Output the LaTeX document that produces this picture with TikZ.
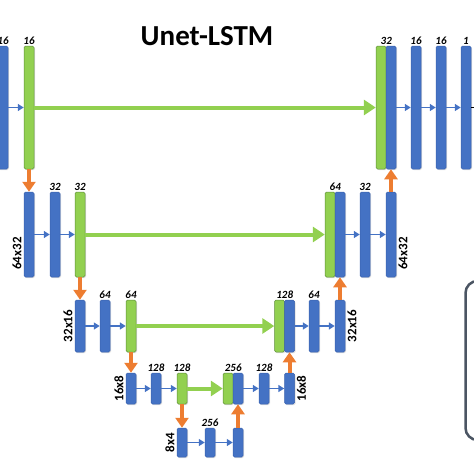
\documentclass[tikz,border=0pt]{standalone}
\usepackage{fontspec}
\setmainfont{Carlito}
\usetikzlibrary{arrows.meta,shadows}
\definecolor{barblue}{HTML}{4472C4}
\definecolor{blueline}{HTML}{3A62AE}
\definecolor{bargreen}{HTML}{92D050}
\definecolor{greenline}{HTML}{5E8E3A}
\definecolor{uporange}{HTML}{ED7D31}
\definecolor{boxline}{HTML}{4B5563}

\begin{document}
\begin{tikzpicture}[x=1pt,y=-1pt,
    bar/.style={rectangle,rounded corners=1.5pt,inner sep=0pt,minimum width=10pt,
      draw=blueline,fill=barblue,line width=0.5pt,
      drop shadow={shadow xshift=1pt,shadow yshift=-1pt,opacity=0.25}},
    gbar/.style={bar,draw=greenline,fill=bargreen},
    num/.style={font=\fontsize{11}{11}\selectfont\bfseries\itshape,inner sep=1pt},
    dim/.style={font=\fontsize{13}{13}\selectfont\bfseries,rotate=90,inner sep=1pt},
    flow/.style={barblue,line width=1.8pt,-{Triangle[length=6pt,width=7pt]}},
    skip/.style={bargreen,line width=4pt,-{Triangle[length=12pt,width=15pt]}},
    pool/.style={uporange,line width=4pt,-{Triangle[length=10pt,width=13pt]}}
    ]

    \clip (0,0) rectangle (474,474);

    \node (title) [font=\fontsize{29}{29}\selectfont\bfseries,anchor=base] at (207,45) {Unet-LSTM};

    % level 1
    \node (e1a) [bar,minimum height=123pt,label={[num]above:16}] at (3,107.5) {};
    \node (e1b) [gbar,minimum height=123pt,label={[num]above:16}] at (29,107.5) {};
    \node (d1g) [gbar,minimum height=123pt] at (381,107.5) {};
    \node (d1b) [bar,minimum height=123pt] at (391,107.5) {};
    \node [num,anchor=south] at (d1g.north east) {32};
    \foreach \n/\x/\t in {c/416/16,d/441/16,e/466/1}
      \node (d1\n) [bar,minimum height=123pt,label={[num]above:\t}] at (\x,107.5) {};
    \coordinate (out) at (474,107.5);

    % level 2
    \node (e2a) [bar,minimum height=85pt] at (29,234.5) {};
    \node (e2b) [bar,minimum height=85pt,label={[num]above:32}] at (55,234.5) {};
    \node (e2c) [gbar,minimum height=85pt,label={[num]above:32}] at (80,234.5) {};
    \node (d2g) [gbar,minimum height=85pt] at (330,234.5) {};
    \node (d2b) [bar,minimum height=85pt] at (340,234.5) {};
    \node [num,anchor=south] at (d2g.north east) {64};
    \node (d2c) [bar,minimum height=85pt,label={[num]above:32}] at (365,234.5) {};
    \node (d2d) [bar,minimum height=85pt] at (391,234.5) {};
    \node [dim,anchor=south] at ([xshift=-1pt,yshift=-19pt]e2a.west) {64x32};
    \node [dim,anchor=north] at ([xshift=1pt,yshift=-19pt]d2d.east) {64x32};

    % level 3
    \node (e3a) [bar,minimum height=52pt] at (80,326) {};
    \node (e3b) [bar,minimum height=52pt,label={[num]above:64}] at (105,326) {};
    \node (e3c) [gbar,minimum height=52pt,label={[num]above:64}] at (131,326) {};
    \node (d3g) [gbar,minimum height=52pt] at (279.5,326) {};
    \node (d3b) [bar,minimum height=52pt] at (289.5,326) {};
    \node [num,anchor=south] at (d3g.north east) {128};
    \node (d3c) [bar,minimum height=52pt,label={[num]above:64}] at (314,326) {};
    \node (d3d) [bar,minimum height=52pt] at (340,326) {};
    \node [dim,anchor=south] at ([xshift=-1pt]e3a.west) {32x16};
    \node [dim,anchor=north] at ([xshift=1pt]d3d.east) {32x16};

    % level 4
    \node (e4a) [bar,minimum height=31pt] at (131,388.5) {};
    \node (e4b) [bar,minimum height=31pt,label={[num]above:128}] at (156,388.5) {};
    \node (e4c) [gbar,minimum height=31pt,label={[num]above:128}] at (182,388.5) {};
    \node (d4g) [gbar,minimum height=31pt] at (228,388.5) {};
    \node (d4b) [bar,minimum height=31pt] at (238,388.5) {};
    \node [num,anchor=south] at (d4g.north east) {256};
    \node (d4c) [bar,minimum height=31pt,label={[num]above:128}] at (264,388.5) {};
    \node (d4d) [bar,minimum height=31pt] at (289.5,388.5) {};
    \node [dim,anchor=south] at ([xshift=-1pt]e4a.west) {16x8};
    \node [dim,anchor=north] at ([xshift=1pt]d4d.east) {16x8};

    % bottom
    \node (m5a) [bar,minimum height=29pt] at (182,442.5) {};
    \node (m5b) [bar,minimum height=29pt,label={[num]above:256}] at (210,442.5) {};
    \node (m5c) [bar,minimum height=29pt] at (238,442.5) {};
    \node [dim,anchor=south] at ([xshift=-1pt]m5a.west) {8x4};

    % connections
    \draw[flow] (e1a) -- (e1b);
    \draw[flow] (d1b) -- (d1c);
    \draw[flow] (d1c) -- (d1d);
    \draw[flow] (d1d) -- (d1e);
    \draw[line width=1pt] (d1e) -- (out);
    \draw[skip] (e1b) -- (d1g);
    \foreach \l in {2,3,4}
      {\draw[flow] (e\l a) -- (e\l b);
        \draw[flow] (e\l b) -- (e\l c);
        \draw[flow] (d\l b) -- (d\l c);
        \draw[flow] (d\l c) -- (d\l d);
        \draw[skip] (e\l c) -- (d\l g);
      }
    \draw[flow] (m5a) -- (m5b);
    \draw[flow] (m5b) -- (m5c);
    \foreach \a/\b in {e1b/e2a,e2c/e3a,e3c/e4a,e4c/m5a,m5c/d4b,d4d/d3b,d3d/d2b,d2d/d1b}
      \draw[pool] (\a) -- (\b);

    % legend frame
    \draw[boxline,line width=2.5pt,rounded corners=12pt] (465.5,281) rectangle (500,440);

  \end{tikzpicture}
\end{document}
